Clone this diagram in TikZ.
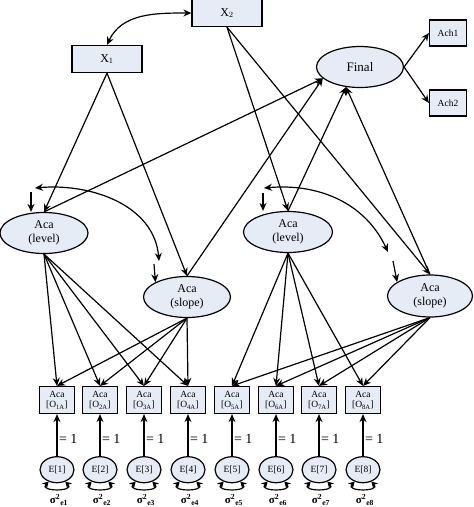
\documentclass[tikz,border=0pt]{standalone}
\usepackage{fontspec}
\setmainfont{Liberation Serif}
\usetikzlibrary{shapes, arrows.meta, positioning, calc, backgrounds}
\definecolor{boxfill}{RGB}{230,236,246}

\begin{document}
\begin{tikzpicture} [
    x=1pt, y=1pt,
    node distance=44pt,
    xbox/.style={rectangle, draw=black, line width=1.2pt, fill=boxfill, minimum width=70pt, minimum height=27pt, inner sep=0pt, font=\fontsize{12}{12}\selectfont},
    achbox/.style={rectangle, draw=black, line width=1.2pt, fill=boxfill, minimum width=37pt, minimum height=26pt, inner sep=0pt, font=\fontsize{9.5}{10}\selectfont},
    obsbox/.style={rectangle, draw=black, line width=1.2pt, fill=boxfill, minimum width=35pt, minimum height=27pt, inner sep=0pt, align=center, font=\fontsize{9.5}{10.5}\selectfont},
    latent/.style={ellipse, draw=black, line width=1.2pt, fill=boxfill, minimum width=88pt, minimum height=41pt, inner sep=0pt, align=center, font=\fontsize{12}{14}\selectfont},
    errnode/.style={ellipse, draw=black, line width=1.2pt, fill=boxfill, minimum width=34pt, minimum height=26pt, inner sep=0pt, font=\fontsize{9.5}{10}\selectfont},
    arrow/.style={-{Stealth[length=8pt,width=7pt]}, line width=1.2pt},
    dblarrow/.style={{Stealth[length=8pt,width=7pt]}-{Stealth[length=8pt,width=7pt]}, line width=1.2pt},
    looparrow/.style={{Stealth[length=6pt,width=7pt]}-{Stealth[length=6pt,width=7pt]}, line width=1.2pt},
    fixlabel/.style={right, inner sep=1.5pt, font=\fontsize{14}{14}\selectfont},
    varlabel/.style={inner sep=0pt, font=\fontsize{11}{11}\selectfont\bfseries}
]
\useasboundingbox (0,0) rectangle (474,-507);

% Define all nodes first (foreground)
\node[xbox] (x2) at (227,-13) {X$_2$};
\node[xbox] (x1) at (107,-59) {X$_1$};
\node[latent, minimum width=87pt, font=\fontsize{13}{14}\selectfont] (final) at (360,-67) {Final};
\node[achbox] (ach1) at (448,-33) {Ach1};
\node[achbox] (ach2) at (448,-103) {Ach2};

\node[latent] (levA) at (44,-233) {Aca\\(level)};
\node[latent, minimum width=87pt] (sloA) at (187,-297) {Aca\\(slope)};
\node[latent, minimum width=89pt] (levB) at (288,-232) {Aca\\(level)};
\node[latent, minimum width=85pt, minimum height=42pt] (sloB) at (430,-296) {Aca\\(slope)};

\node[obsbox] (o1) at (57,-400) {Aca\\{}[O\textsubscript{1A}]};
\node[obsbox] (o2) at (100,-400) {Aca\\{}[O\textsubscript{2A}]};
\node[obsbox] (o3) at (144,-400) {Aca\\{}[O\textsubscript{3A}]};
\node[obsbox] (o4) at (188,-400) {Aca\\{}[O\textsubscript{4A}]};
\node[obsbox] (o5) at (232,-400) {Aca\\{}[O\textsubscript{5A}]};
\node[obsbox] (o6) at (276,-400) {Aca\\{}[O\textsubscript{6A}]};
\node[obsbox] (o7) at (319,-400) {Aca\\{}[O\textsubscript{7A}]};
\node[obsbox] (o8) at (363,-400) {Aca\\{}[O\textsubscript{8A}]};

\node[errnode, below=42pt of o1] (e1) {E[1]};
\node[errnode, below=42pt of o2] (e2) {E[2]};
\node[errnode, below=42pt of o3] (e3) {E[3]};
\node[errnode, below=42pt of o4] (e4) {E[4]};
\node[errnode, below=42pt of o5] (e5) {E[5]};
\node[errnode, below=42pt of o6] (e6) {E[6]};
\node[errnode, below=42pt of o7] (e7) {E[7]};
\node[errnode, below=42pt of o8] (e8) {E[8]};

\node[varlabel, below=11pt of e1, xshift=2pt] (v1) {σ\textsuperscript{2}\textsubscript{e1}};
\node[varlabel, below=11pt of e2, xshift=2pt] (v2) {σ\textsuperscript{2}\textsubscript{e2}};
\node[varlabel, below=11pt of e3, xshift=2pt] (v3) {σ\textsuperscript{2}\textsubscript{e3}};
\node[varlabel, below=11pt of e4, xshift=2pt] (v4) {σ\textsuperscript{2}\textsubscript{e4}};
\node[varlabel, below=11pt of e5, xshift=2pt] (v5) {σ\textsuperscript{2}\textsubscript{e5}};
\node[varlabel, below=11pt of e6, xshift=2pt] (v6) {σ\textsuperscript{2}\textsubscript{e6}};
\node[varlabel, below=11pt of e7, xshift=2pt] (v7) {σ\textsuperscript{2}\textsubscript{e7}};
\node[varlabel, below=11pt of e8, xshift=2pt] (v8) {σ\textsuperscript{2}\textsubscript{e8}};

% free ends of the covariance arrows
\coordinate (covA1) at (35,-188);
\coordinate (covA2) at (159,-261);
\coordinate (covB1) at (264,-188);
\coordinate (covB2) at (388,-252);
\coordinate (resA1) at (31,-192);
\coordinate (resA2) at (154,-264);
\coordinate (resB1) at (263,-193);
\coordinate (resB2) at (393,-261);

% Draw all arrows in background
\begin{scope}[on background layer]
    \draw[dblarrow] (x1.north) to[out=65, in=180] (x2.west);
    \draw[arrow] (final.east) -- (ach1.west);
    \draw[arrow] (final.east) -- (ach2.west);

    \draw[arrow] (x1.south) -- (levA.north);
    \draw[arrow] (x1.south) -- (sloA.north);
    \draw[arrow] (x2.south) -- (levB.north);
    \draw[arrow] (x2.south) -- (sloB.north);

    \draw[arrow] (levA.north) -- (final.197);
    \draw[arrow] (sloA.north) -- (final.197);
    \draw[arrow] (levB.north) -- (final.235);
    \draw[arrow] (sloB.north) -- (final.235);

    \draw[dblarrow] (covA1) to[out=5, in=95] (covA2);
    \draw[dblarrow] (covB1) to[out=5, in=115] (covB2);
    \draw[arrow] (resA1) -- (resA1 |- levA.north);
    \draw[arrow] (resA2) -- (sloA.155);
    \draw[arrow] (resB1) -- (resB1 |- levB.north);
    \draw[arrow] (resB2) -- (sloB.157);

    \draw[arrow] (levA.south) -- (o1.north);
    \draw[arrow] (levA.south) -- (o2.north);
    \draw[arrow] (levA.south) -- (o3.north);
    \draw[arrow] (levA.south) -- (o4.north);
    \draw[arrow] (sloA.south) -- (o1.north);
    \draw[arrow] (sloA.south) -- (o2.north);
    \draw[arrow] (sloA.south) -- (o3.north);
    \draw[arrow] (sloA.south) -- (o4.north);
    \draw[arrow] (levB.south) -- (o5.north);
    \draw[arrow] (levB.south) -- (o6.north);
    \draw[arrow] (levB.south) -- (o7.north);
    \draw[arrow] (levB.south) -- (o8.north);
    \draw[arrow] (sloB.south) -- (o5.north);
    \draw[arrow] (sloB.south) -- (o6.north);
    \draw[arrow] (sloB.south) -- (o7.north);
    \draw[arrow] (sloB.south) -- (o8.north);

    \draw[arrow] (e1) -- node[fixlabel, pos=0.4] {= 1} (o1);
    \draw[arrow] (e2) -- node[fixlabel, pos=0.4] {= 1} (o2);
    \draw[arrow] (e3) -- node[fixlabel, pos=0.4] {= 1} (o3);
    \draw[arrow] (e4) -- node[fixlabel, pos=0.4] {= 1} (o4);
    \draw[arrow] (e5) -- node[fixlabel, pos=0.4] {= 1} (o5);
    \draw[arrow] (e6) -- node[fixlabel, pos=0.4] {= 1} (o6);
    \draw[arrow] (e7) -- node[fixlabel, pos=0.4] {= 1} (o7);
    \draw[arrow] (e8) -- node[fixlabel, pos=0.4] {= 1} (o8);

    \draw[looparrow] (e1.235) to[out=-135, in=-45, looseness=2.2] (e1.305);
    \draw[looparrow] (e2.235) to[out=-135, in=-45, looseness=2.2] (e2.305);
    \draw[looparrow] (e3.235) to[out=-135, in=-45, looseness=2.2] (e3.305);
    \draw[looparrow] (e4.235) to[out=-135, in=-45, looseness=2.2] (e4.305);
    \draw[looparrow] (e5.235) to[out=-135, in=-45, looseness=2.2] (e5.305);
    \draw[looparrow] (e6.235) to[out=-135, in=-45, looseness=2.2] (e6.305);
    \draw[looparrow] (e7.235) to[out=-135, in=-45, looseness=2.2] (e7.305);
    \draw[looparrow] (e8.235) to[out=-135, in=-45, looseness=2.2] (e8.305);
\end{scope}

\end{tikzpicture}
\end{document}
